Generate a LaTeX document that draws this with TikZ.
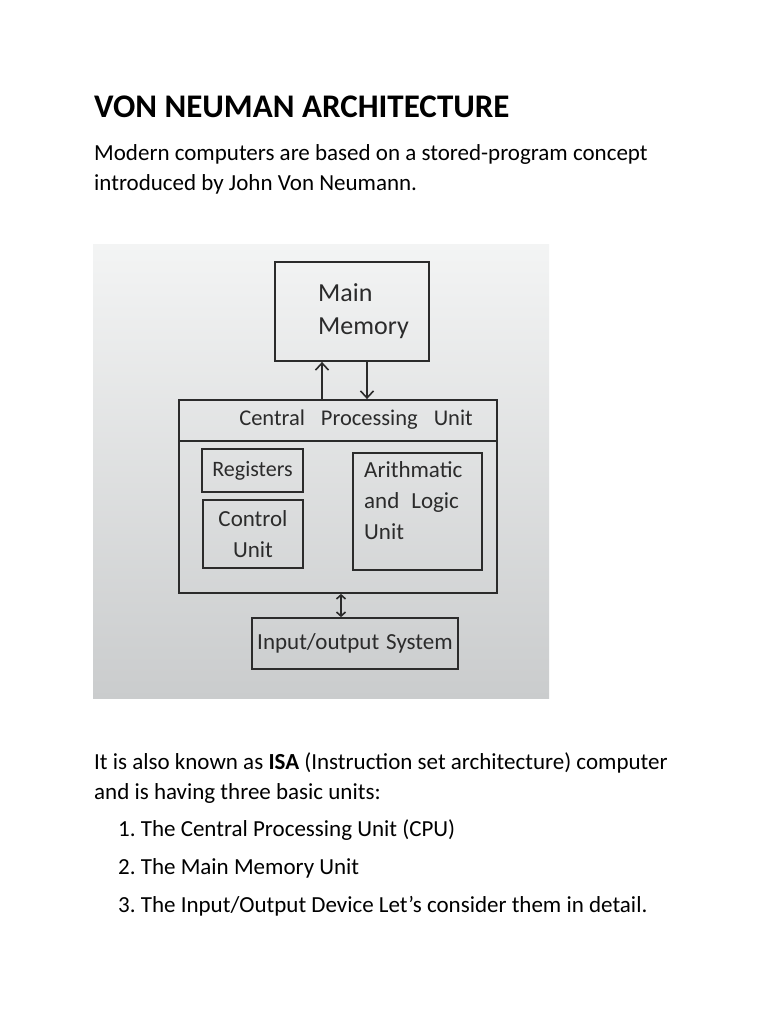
\documentclass[tikz,border=0pt]{standalone}
\usepackage{fontspec}
\setmainfont{Carlito}
\usetikzlibrary{arrows.meta,calc}
\definecolor{ink}{HTML}{2B2B2B}
\definecolor{phototop}{HTML}{F3F4F4}
\definecolor{photomid}{HTML}{E9EAEA}
\definecolor{photobot}{HTML}{CACCCD}
\tikzset{
  doc/.style={anchor=base west, inner sep=0pt, font=\fontsize{23}{27}\selectfont},
  head/.style={anchor=base west, inner sep=0pt, font=\fontsize{33}{38}\selectfont\bfseries},
  sketchbox/.style={draw=ink, line width=1.8pt, rectangle, inner sep=0pt, text=ink},
  hand/.style={text=ink, inner sep=0pt},
  arr/.style={draw=ink, line width=1.8pt, -{Straight Barb[length=7pt,width=13pt,line width=1.6pt]}},
  darr/.style={draw=ink, line width=1.6pt, {Straight Barb[length=4pt,width=9pt]}-{Straight Barb[length=4pt,width=9pt]}}
}
\begin{document}
\frenchspacing
\begin{tikzpicture}[x=1pt,y=-1pt]
\useasboundingbox (0,0) rectangle (768,1024);
\fill[white] (0,0) rectangle (768,1024);
% title and intro text
\node[head] (title) at (94,117.3) {VON NEUMAN ARCHITECTURE};
\node[doc] (p1) at (94,160.5) {Modern computers are based on a stored-program concept};
\node[doc] (p2) at (94,190.5) {introduced by John Von Neumann.};
% photo background
\shade[top color=phototop, middle color=photomid, bottom color=photobot] (93,244) rectangle (549,698);
% main memory
\node[sketchbox, minimum width=154pt, minimum height=99pt] (mem) at (352,311.5) {};
\node[hand, anchor=west, font=\fontsize{26}{30}\selectfont, align=left] (memtxt) at (318,311) {Main\\[3pt]Memory};
% cpu
\node[sketchbox, minimum width=318pt, minimum height=193pt] (cpu) at (338,496.5) {};
\node[sketchbox, minimum width=318pt, minimum height=41pt] (cputitle) at (338,420.5) {};
\node[hand, font=\fontsize{22.5}{26}\selectfont] (cpulbl) at (356,420) {Central\hspace{16pt}Processing\hspace{16pt}Unit};
\node[sketchbox, minimum width=101pt, minimum height=43pt, font=\fontsize{22}{26}\selectfont] (reg) at (252.5,470.5) {Registers};
\node[sketchbox, minimum width=100pt, minimum height=68pt, font=\fontsize{23}{31}\selectfont, align=center] (cu) at (253,534) {Control\\Unit};
\node[sketchbox, minimum width=129pt, minimum height=117pt] (alu) at (417.5,511.5) {};
\node[hand, anchor=north west, font=\fontsize{23}{31}\selectfont, align=left] (alutxt) at (364,461) {Arithmatic\\and\hspace{12pt}Logic\\Unit};
% io
\node[sketchbox, minimum width=206pt, minimum height=51pt, font=\fontsize{23}{26}\selectfont] (io) at (355,643.5) {Input/output\hspace{7pt}System};
% connectors
\coordinate (upx) at (322,0);
\coordinate (dnx) at (367,0);
\coordinate (iox) at (341,0);
\draw[arr] (cpu.north -| upx) -- (mem.south -| upx);
\draw[arr] (mem.south -| dnx) -- (cpu.north -| dnx);
\draw[darr] (cpu.south -| iox) -- (io.north -| iox);
% closing text
\node[doc] (p3) at (94,769.5) {It is also known as \textbf{ISA} (Instruction set architecture) computer};
\node[doc] (p4) at (94,799) {and is having three basic units:};
\node[doc] (l1) at (118,836.5) {1. The Central Processing Unit (CPU)};
\node[doc] (l2) at (118,874.5) {2. The Main Memory Unit};
\node[doc] (l3) at (118,912.5) {3. The Input/Output Device Let’s consider them in detail.};
\end{tikzpicture}
\end{document}
